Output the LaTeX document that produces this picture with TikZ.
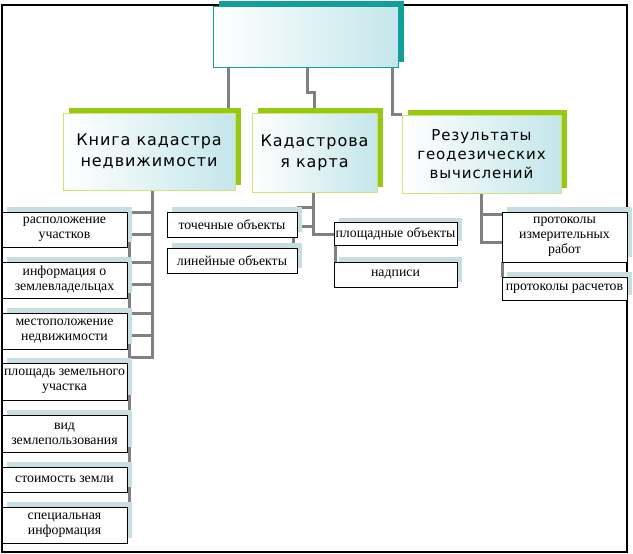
\documentclass[tikz,border=0pt]{standalone}
\usepackage{fontspec}
\setmainfont{Liberation Serif}
\newfontfamily\headfont[LetterSpace=6]{DejaVu Sans}
\usetikzlibrary{shadows,backgrounds}
\definecolor{tealline}{RGB}{20,158,154}
\definecolor{limeshadow}{RGB}{150,200,20}
\definecolor{limeline}{RGB}{205,228,120}
\definecolor{paleblue}{RGB}{196,230,234}
\definecolor{leafshadow}{RGB}{200,222,226}
\definecolor{connline}{RGB}{128,128,128}
\tikzset{
  headbox/.style={draw=tealline, line width=1pt, left color=white, right color=paleblue,
    minimum width=185, minimum height=61,
    general shadow={shadow xshift=6pt, shadow yshift=5pt, fill=tealline}},
  mainbox/.style={draw=limeline, line width=1pt, left color=white, right color=paleblue,
    align=center, inner sep=1pt, font=\headfont\fontsize{16}{21}\selectfont,
    general shadow={shadow xshift=6pt, shadow yshift=5pt, fill=limeshadow}},
  leafbox/.style={draw=black, fill=white, line width=0.9pt, align=center, inner sep=1pt,
    minimum width=125, font=\fontsize{13.8}{15}\selectfont,
    general shadow={shadow xshift=5pt, shadow yshift=5pt, fill=leafshadow}},
  conn/.style={draw=connline, line width=3pt},
}
\begin{document}
\begin{tikzpicture}[x=1pt, y=-1pt]
  \useasboundingbox (0,0) rectangle (633,554);
  \node[headbox] (top) at (305.5,36.5) {};
  \node[mainbox, minimum width=172, minimum height=77] (kniga) at (149,151.5)
    {Книга кадастра\\недвижимости};
  \node[mainbox, minimum width=125, minimum height=79] (karta) at (314.5,152.5)
    {Кадастрова\\я карта};
  \node[mainbox, minimum width=159, minimum height=78,
    font=\headfont\fontsize{15}{19}\selectfont] (rez) at (481.5,154)
    {Результаты\\геодезических\\вычислений};
  \node[leafbox, minimum height=35] (l1) at (64.5,229.5) {расположение\\участков};
  \node[leafbox, minimum height=36] (l2) at (64.5,280) {информация о\\землевладельцах};
  \node[leafbox, minimum height=36] (l3) at (64.5,331) {местоположение\\недвижимости};
  \node[leafbox, minimum height=37] (l4) at (64.5,381.5) {площадь земельного\\участка};
  \node[leafbox, minimum height=37] (l5) at (64.5,433.5) {вид\\землепользования};
  \node[leafbox, minimum height=25] (l6) at (64.5,479.5) {стоимость земли};
  \node[leafbox, minimum height=36] (l7) at (64.5,525) {специальная\\информация};
  \node[leafbox, minimum width=130, minimum height=25] (to) at (232,224.5) {точечные объекты};
  \node[leafbox, minimum width=130, minimum height=25] (li) at (232,260.5) {линейные объекты};
  \node[leafbox, minimum width=123, minimum height=23] (pl) at (395.5,234) {площадные объекты};
  \node[leafbox, minimum width=123, minimum height=25] (na) at (395.5,274.5) {надписи};
  \node[leafbox, minimum height=50] (pi) at (564.5,237) {протоколы\\измерительных\\работ};
  \node[leafbox, minimum height=23] (pr) at (564.5,288.5) {протоколы расчетов};
  \begin{scope}[on background layer]
    \draw[line width=1.5pt] (2,5) rectangle (627,552);
    \draw[conn] ([xshift=-7pt]kniga.north east |- top.south) -- ([xshift=-7pt]kniga.north east);
    \draw[conn] ([xshift=-7pt]karta.north |- top.south) -- ++(0,25) -| (karta.north);
    \draw[conn] ([xshift=-9pt]top.south -| rez.west) |- (rez.north west);
    \coordinate (sp) at ([xshift=3pt]kniga.south);
    \draw[conn] (sp) -- ([yshift=5pt]l4.north east -| sp) -- ([xshift=2pt,yshift=5pt]l4.north east);
    \draw[conn] ([xshift=2pt,yshift=-1pt]l1.north east) -- ([xshift=2pt]l7.east);
    \foreach \n in {l1,l2,l3} {
      \draw[conn] ([yshift=-1pt]\n.north east -| sp) -- ([xshift=2pt,yshift=-1pt]\n.north east);
      \draw[conn] ([yshift=-23pt]\n.north east -| sp) -- ([xshift=2pt,yshift=-23pt]\n.north east);
    }
    \draw[conn] ([xshift=-1.5pt]karta.south) |- (pl.west);
    \draw[conn] ([yshift=4pt]to.north east -| karta.south) -- ([yshift=4pt]to.north east);
    \draw[conn] ([yshift=-15pt]to.north east -| karta.south) -- ([yshift=-15pt]to.north east);
    \draw[conn] ([xshift=-4pt]to.south east) -- ([xshift=-4pt]li.north east);
    \draw[conn] ([xshift=2pt]pl.south west) -- ([xshift=2pt]na.north west);
    \draw[conn] (rez.south) |- ([yshift=-5pt]pi.west);
    \draw[conn] ([yshift=-3pt]pi.north west -| rez.south) -- ([yshift=-3pt]pi.north west);
    \draw[conn] ([xshift=1pt]pi.south west) -- ([xshift=1pt]pr.north west);
  \end{scope}
\end{tikzpicture}
\end{document}
